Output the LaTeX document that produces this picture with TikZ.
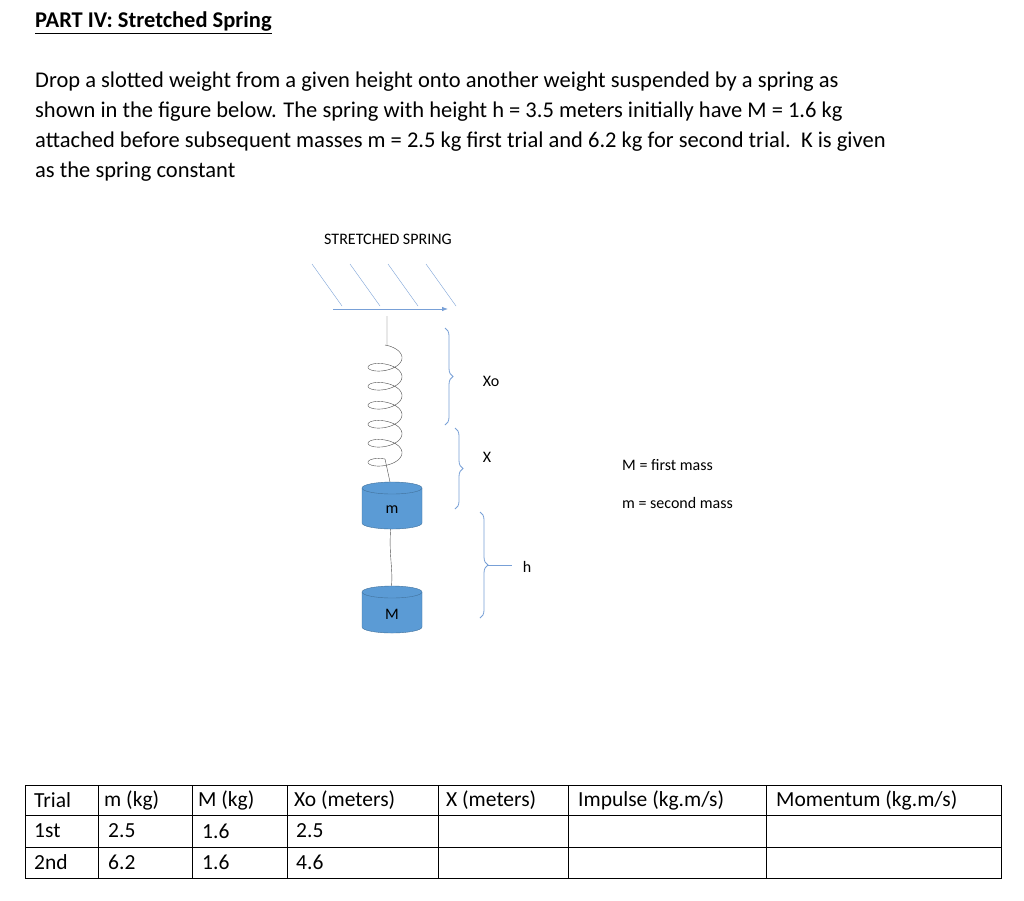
\documentclass[tikz,border=0pt]{standalone}
\usepackage{fontspec}
\setmainfont{Carlito}
\usetikzlibrary{decorations.pathreplacing,arrows.meta}
\definecolor{massfill}{RGB}{91,155,213}
\definecolor{massline}{RGB}{65,113,156}
\definecolor{lineblue}{RGB}{120,160,215}
\tikzset{
  body/.style={anchor=north west,align=left,font=\fontsize{22.5}{30}\selectfont,inner sep=0pt},
  small/.style={font=\fontsize{16}{18}\selectfont,inner sep=0pt},
  measure/.style={draw=lineblue,thick,decorate,decoration={brace,mirror,amplitude=8pt}},
  cell/.style={font=\fontsize{21.5}{24}\selectfont,anchor=west,inner sep=0pt}
}
\newcommand{\massblock}[3]{%
  \draw[massline,fill=massfill] (#1-30,#2) -- (#1-30,#2+35) arc[start angle=180,end angle=360,x radius=30,y radius=-6] -- (#1+30,#2);
  \draw[massline,fill=massfill] (#1,#2) ellipse (30 and 6);
  \node[small] at (#1,#2+22) {#3};
}
\begin{document}
\begin{tikzpicture}[x=1pt,y=-1pt]
\useasboundingbox[fill=white] (0,0) rectangle (1024,900);

% heading and text
\node[body,font=\fontsize{22.5}{30}\selectfont\bfseries] (title) at (35,12) {\underline{PART IV: Stretched Spring}};
\node[body] (intro) at (35,72) {Drop a slotted weight from a given height onto another weight suspended by a spring as\\
shown in the figure below. The spring with height h = 3.5 meters initially have M = 1.6 kg\\
attached before subsequent masses m = 2.5 kg first trial and 6.2 kg for second trial.\ \ K is given\\
as the spring constant};

% figure
\node[small] (caption) at (388,239) {STRETCHED SPRING};
\foreach \x in {312,350,388,426}
  \draw[lineblue] (\x,264) -- (\x+30,306);
\draw[lineblue,thick,-{Latex[length=6pt]}] (333,309) -- (448,309);
\coordinate (top) at (387,316);
\draw[gray!60!black] (top) -- (387,345)
  plot[domain=0:2160,samples=300,smooth] ({385+17*sin(\x)},{353+\x/360*19-8*cos(\x)})
  -- (390,482);
\draw[gray!60!black] (391,525) .. controls (388,555) and (394,570) .. (391,590);
\massblock{392}{488}{m}
\massblock{392}{592}{M}

\draw[measure] (445,425) -- (445,328);
\node[small] (xo) at (491,381) {Xo};
\draw[measure] (455,509) -- (455,428);
\node[small] (xx) at (487,457) {X};
\draw[measure] (480,618) -- (480,512);
\draw[lineblue,thick] (488,565) -- (512,565);
\node[small] (h) at (527,567) {h};

\node[small,anchor=west] (first) at (622,465) {M = first mass};
\node[small,anchor=west] (second) at (622,503) {m = second mass};

% table
\draw (25,785) rectangle (1001,878);
\foreach \y in {815,847} \draw (25,\y) -- (1001,\y);
\foreach \x in {98,192,287,438,568,766} \draw (\x,785) -- (\x,878);
\node[cell] at (34,800) {Trial};
\node[cell] at (104,800) {m (kg)};
\node[cell] at (198,800) {M (kg)};
\node[cell] at (294,800) {Xo (meters)};
\node[cell] at (446,800) {X (meters)};
\node[cell] at (578,800) {Impulse (kg.m/s)};
\node[cell] at (776,800) {Momentum (kg.m/s)};
\node[cell] at (34,831) {1st};
\node[cell] at (108,831) {2.5};
\node[cell] at (202,831) {1.6};
\node[cell] at (296,831) {2.5};
\node[cell] at (34,862) {2nd};
\node[cell] at (108,862) {6.2};
\node[cell] at (202,862) {1.6};
\node[cell] at (296,862) {4.6};
\end{tikzpicture}
\end{document}
